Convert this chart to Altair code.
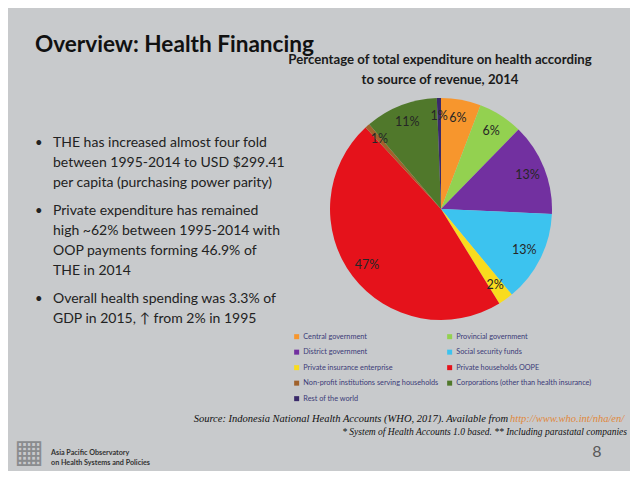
import altair as alt
import pandas as pd

# ---- data ----
categories = [
    "Central government",
    "Provincial government",
    "District government",
    "Social security funds",
    "Private insurance enterprise",
    "Private households OOPE",
    "Non-profit institutions serving households",
    "Corporations (other than health insurance)",
    "Rest of the world",
]
shares = [5.8, 6.5, 13.4, 13.3, 2.2, 46.9, 0.7, 10.6, 0.6]
labels = ["6%", "6%", "13%", "13%", "2%", "47%", "1%", "11%", "1%"]
colors = ["#f7962d", "#93d150", "#7230a0", "#3cc3ef", "#f9dc1e",
          "#e5121b", "#a0622c", "#50782b", "#3a2a6a"]

slide_title = "Overview: Health Financing"
chart_title = ["Percentage of total expenditure on health according",
               "to source of revenue, 2014"]
bullet1 = ["THE has increased almost four fold",
           "between 1995-2014 to USD $299.41",
           "per capita (purchasing power parity)"]
bullet2 = ["Private expenditure has remained",
           "high ~62% between 1995-2014 with",
           "OOP payments forming 46.9% of",
           "THE in 2014"]
bullet3 = ["Overall health spending was 3.3% of",
           "GDP in 2015, \u2191  from 2% in 1995"]
source_main = "Source:  Indonesia National Health Accounts (WHO, 2017). Available from "
source_link = "http://www.who.int/nha/en/"
source_note = "* System of Health Accounts 1.0 based.  ** Including parastatal companies"
footer = ["Asia Pacific Observatory", "on Health Systems and Policies"]
page_no = "8"

df = pd.DataFrame({"category": categories, "share": shares,
                   "label": labels, "order": list(range(len(categories)))})

OX, OY = 8, 8  # page margin offset
CX, CY, R = 441 - OX, 209 - OY, 111

base = alt.Chart(df).encode(
    theta=alt.Theta("share:Q", stack=True),
    order=alt.Order("order:Q"),
    x=alt.value(CX),
    y=alt.value(CY),
)

pie = base.mark_arc(outerRadius=R, strokeWidth=0).encode(
    color=alt.Color(
        "category:N",
        scale=alt.Scale(domain=categories, range=colors),
        legend=alt.Legend(
            title=None, orient="none", legendX=285, legendY=325,
            direction="horizontal", columns=2, symbolType="square",
            symbolSize=25, symbolStrokeWidth=0, labelFont="Lato",
            labelFontSize=7.3, labelColor="#3b3b78", labelLimit=400,
            rowPadding=7.5, columnPadding=7, labelOffset=3, padding=0,
        ),
    )
)

pie_labels = base.mark_text(radius=93, font="Lato", fontSize=12.5,
                            color="#262626").encode(text="label:N")

one = alt.Data(values=[{}])


def txt(text, x, y, **kw):
    return alt.Chart(one).mark_text(text=text, **kw).encode(
        x=alt.value(x - OX), y=alt.value(y - OY))


layers = [
    pie,
    pie_labels,
    txt(slide_title, 35, 45, font="Lato", fontSize=22.6, fontWeight="bold",
        align="left", baseline="middle", color="#111111"),
    txt(chart_title, 440, 60, font="Lato", fontSize=13.2, fontWeight="bold",
        align="center", baseline="middle", lineHeight=20, color="#1a1a1a"),
]

body = dict(font="Lato", fontSize=14, align="left", baseline="middle",
            lineHeight=20, color="#222222")
for lines, y0 in [(bullet1, 143), (bullet2, 211), (bullet3, 299)]:
    layers.append(txt("\u2022", 35, y0, **{**body, "fontSize": 13}))
    layers.append(txt(lines, 53, y0, **body))

layers += [
    txt(source_main, 508, 419, font="Liberation Serif", fontSize=10.5,
        fontStyle="italic", align="right", baseline="middle", color="#111111"),
    txt(source_link, 510, 419, font="Liberation Serif", fontSize=10.5,
        fontStyle="italic", align="left", baseline="middle", color="#e0883a"),
    txt(source_note, 627, 432, font="Liberation Serif", fontSize=9.5,
        fontStyle="italic", align="right", baseline="middle", color="#111111"),
    txt(page_no, 597, 452, font="Lato", fontSize=16, align="center",
        baseline="middle", color="#595959"),
    txt("\u25a6", 29, 452, font="DejaVu Sans", fontSize=32, align="center",
        baseline="middle", color="#8a8c8e"),
    txt(footer, 51, 453, font="Lato", fontSize=7.2, fontWeight="bold",
        align="left", baseline="middle", lineHeight=9.5, color="#333333"),
]

chart = alt.layer(*layers).properties(
    width=622, height=463, padding=0,
    autosize=alt.AutoSizeParams(type="none"),
    background="#c8cacc",
).configure_view(stroke=None)

chart.save("out.html", embed_options={"renderer": "svg", "actions": False})
